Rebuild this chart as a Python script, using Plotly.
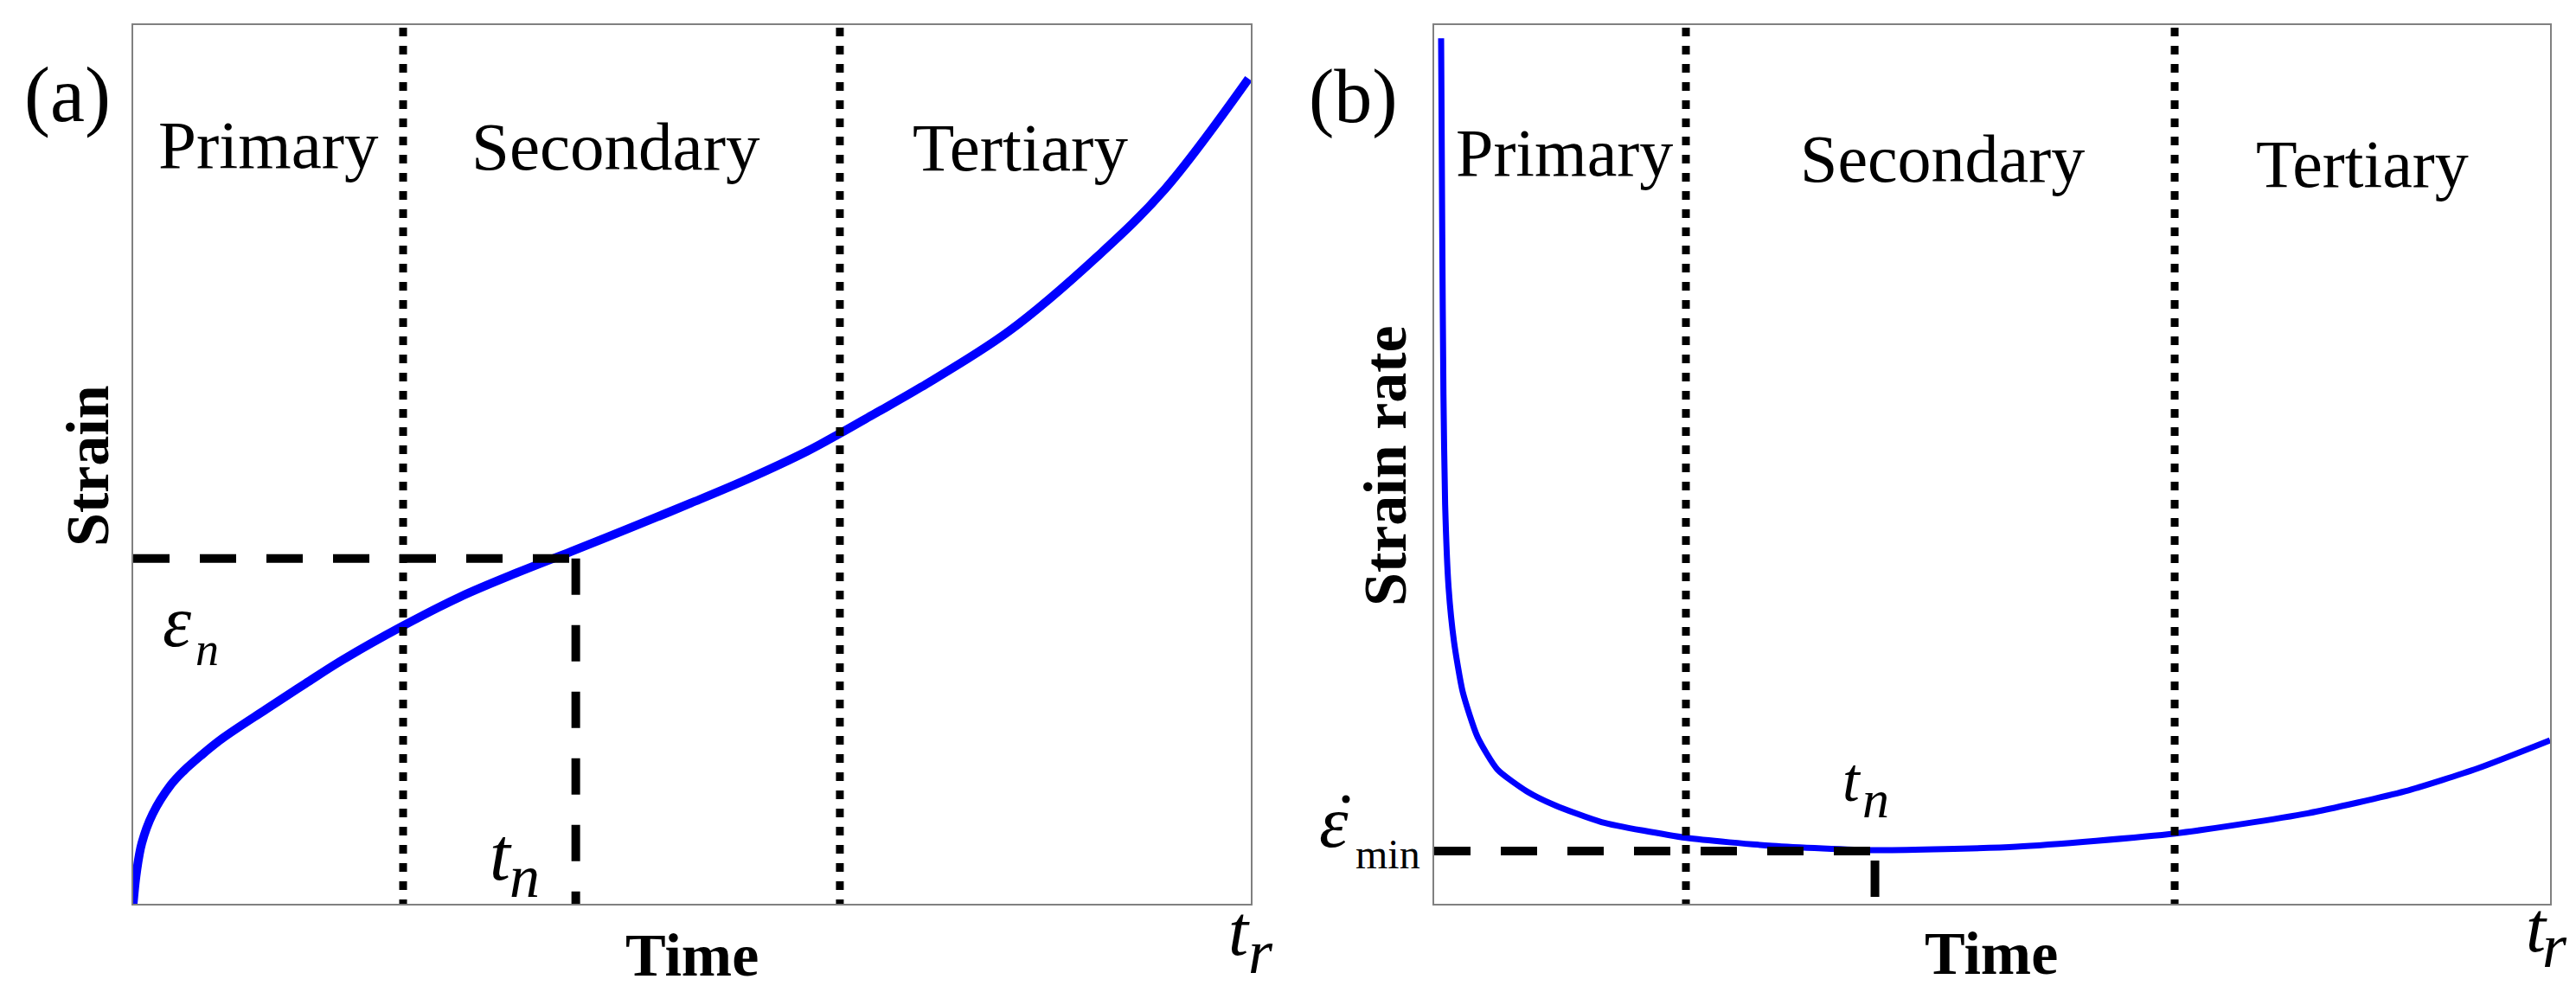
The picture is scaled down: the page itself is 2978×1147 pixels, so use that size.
import plotly.graph_objects as go

W, H = 2978, 1147

# (a) creep strain against normalised time (t / t_r)
strain_time = [0, 0.003, 0.0077, 0.0173, 0.0335, 0.045, 0.060, 0.079, 0.119, 0.154,
               0.188, 0.241, 0.292, 0.344, 0.392, 0.447, 0.499, 0.551, 0.603, 0.632,
               0.661, 0.705, 0.784, 0.863, 0.923, 0.998]
strain = [0, 0.036, 0.069, 0.102, 0.135, 0.151, 0.168, 0.1875, 0.2215, 0.2505,
          0.278, 0.316, 0.349, 0.377, 0.401, 0.429, 0.456, 0.484, 0.515, 0.535,
          0.556, 0.588, 0.652, 0.737, 0.813, 0.939]

# (b) strain rate against normalised time
rate_time = [0.0062, 0.0072, 0.0083, 0.0098, 0.0129, 0.0178, 0.0256, 0.0388, 0.0566,
             0.083, 0.1085, 0.150, 0.226, 0.303, 0.395, 0.522, 0.664, 0.783, 0.870,
             0.935, 1.0]
strain_rate = [0.985, 0.768, 0.580, 0.455, 0.360, 0.298, 0.241, 0.190, 0.153,
               0.128, 0.112, 0.093, 0.075, 0.066, 0.061, 0.065, 0.080, 0.103, 0.128,
               0.154, 0.186]

# stage boundaries and the t_n markers
bounds_a = [0.2415, 0.6323]
bounds_b = [0.2256, 0.6636]
tn_a, eps_n = 0.396, 0.393
tn_b, eps_min = 0.395, 0.060

stages = ["Primary", "Secondary", "Tertiary"]

FONT = "Liberation Serif, Times New Roman, serif"
BLUE = "#0000FF"
DOTS = "10px,11px"
DASH = "42px,35px"


def txt(s, x, base, size, xanchor="center"):
    # x, base in pixels of the final picture (base = text baseline)
    return dict(text=s, x=x / W, y=1 - (base + 0.216 * size) / H,
                xref="paper", yref="paper", xanchor=xanchor, yanchor="bottom",
                showarrow=False, borderpad=0,
                font=dict(family=FONT, size=size, color="black"))


def ctxt(s, x, y, size, angle=0):
    return dict(text=s, x=x / W, y=1 - y / H, xref="paper", yref="paper",
                xanchor="center", yanchor="middle", textangle=angle,
                showarrow=False, borderpad=0,
                font=dict(family=FONT, size=size, color="black"))


fig = go.Figure()
fig.add_trace(go.Scatter(x=strain_time, y=strain, mode="lines",
                         line=dict(color=BLUE, width=10, shape="spline", smoothing=1.0),
                         xaxis="x", yaxis="y", hoverinfo="skip", showlegend=False))
fig.add_trace(go.Scatter(x=rate_time, y=strain_rate, mode="lines",
                         line=dict(color=BLUE, width=7, shape="spline", smoothing=0.6),
                         xaxis="x2", yaxis="y2", hoverinfo="skip", showlegend=False))

shapes = []
for xr, yr, bnds in [("x", "y", bounds_a), ("x2", "y2", bounds_b)]:
    for b in bnds:
        shapes.append(dict(type="line", xref=xr, yref=yr, x0=b, x1=b, y0=-0.005, y1=1,
                           line=dict(color="black", width=9, dash=DOTS)))

# dashed guides
shapes.append(dict(type="line", xref="x", yref="y", x0=0, x1=tn_a, y0=eps_n, y1=eps_n,
                   line=dict(color="black", width=10, dash=DASH)))
shapes.append(dict(type="line", xref="x", yref="y", x0=tn_a, x1=tn_a, y0=eps_n, y1=0,
                   line=dict(color="black", width=10, dash=DASH)))
shapes.append(dict(type="line", xref="x2", yref="y2", x0=0, x1=tn_b, y0=eps_min, y1=eps_min,
                   line=dict(color="black", width=10, dash=DASH)))
shapes.append(dict(type="line", xref="x2", yref="y2", x0=tn_b, x1=tn_b, y0=eps_min, y1=0,
                   line=dict(color="black", width=10, dash="0px,11px,42px,200px")))

# the dot over epsilon (strain rate symbol)
dot_x, dot_y, dot_r = 1548, 916, 4.5
shapes.append(dict(type="circle", xref="paper", yref="paper",
                   x0=(dot_x - dot_r) / W, x1=(dot_x + dot_r) / W,
                   y0=1 - (dot_y + dot_r) / H, y1=1 - (dot_y - dot_r) / H,
                   fillcolor="black", line=dict(width=0)))

ann = [
    txt("(a)", 70, 134, 90),
    txt(stages[0], 302, 187, 79),
    txt(stages[1], 704, 189, 79),
    txt(stages[2], 1171, 190, 79),
    ctxt("<b>Strain</b>", 93, 531, 70, -90),
    txt("<i>ε</i>", 179, 740, 84, "left"),
    txt("<i>n</i>", 217, 762, 54, "left"),
    txt("<i>t</i>", 557, 1010, 86, "left"),
    txt("<i>n</i>", 580, 1030, 70, "left"),
    txt("<b>Time</b>", 792, 1121, 70),
    txt("<i>t</i>", 1411, 1097, 83, "left"),
    txt("<i>r</i>", 1434, 1118, 72, "left"),

    txt("(b)", 1556, 134, 88),
    txt(stages[0], 1800, 196, 78),
    txt(stages[1], 2237, 203, 78),
    txt(stages[2], 2723, 209, 78),
    ctxt("<b>Strain rate</b>", 1593, 531, 70, -90),
    txt("<i>ε</i>", 1516, 972, 85, "left"),
    txt("min", 1558, 997, 48, "left"),
    txt("<i>t</i>", 2121, 919, 71, "left"),
    txt("<i>n</i>", 2144, 938, 62, "left"),
    txt("<b>Time</b>", 2294, 1119, 70),
    txt("<i>t</i>", 2911, 1093, 83, "left"),
    txt("<i>r</i>", 2930, 1111, 72, "left"),
]

axis_style = dict(range=[0, 1], showline=True, mirror=True, linecolor="#808080",
                  linewidth=2, showgrid=False, zeroline=False, showticklabels=False,
                  ticks="", fixedrange=True)
y_dom = [1 - 1037 / H, 1 - 21 / H]

fig.update_layout(
    width=W, height=H,
    margin=dict(l=0, r=0, t=0, b=0),
    paper_bgcolor="white", plot_bgcolor="white",
    xaxis=dict(domain=[146 / W, 1438 / W], anchor="y", **axis_style),
    yaxis=dict(domain=y_dom, anchor="x", **axis_style),
    xaxis2=dict(domain=[1650 / W, 2940 / W], anchor="y2", **axis_style),
    yaxis2=dict(domain=y_dom, anchor="x2", **axis_style),
    shapes=shapes,
    annotations=ann,
    showlegend=False,
)

fig.write_html("out.html")
